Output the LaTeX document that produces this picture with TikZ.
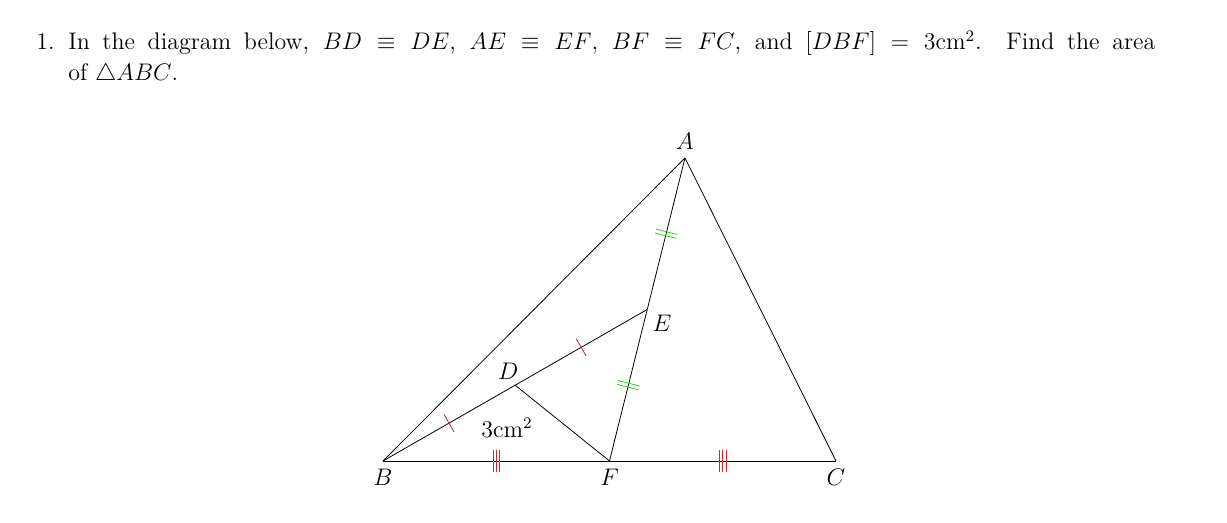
\documentclass[tikz,border=0pt,12pt]{standalone}
\usetikzlibrary{calc,decorations.markings}
\definecolor{tickpurple}{RGB}{214,18,100}
\definecolor{tickgreen}{RGB}{30,215,30}
\definecolor{tickred}{RGB}{230,30,30}
\tikzset{
  onemark/.style={postaction={decorate,decoration={markings,
      mark=at position 0.5 with {\draw[tickpurple] (0,-5pt) -- (0,5pt);}}}},
  twomark/.style={postaction={decorate,decoration={markings,
      mark=at position 0.5 with {\draw[tickgreen] (-1pt,-5.5pt) -- (-1pt,5.5pt) (1pt,-5.5pt) -- (1pt,5.5pt);}}}},
  threemark/.style={postaction={decorate,decoration={markings,
      mark=at position 0.5 with {\draw[tickred] (-1.6pt,-5.5pt) -- (-1.6pt,5.5pt) (0,-5.5pt) -- (0,5.5pt) (1.6pt,-5.5pt) -- (1.6pt,5.5pt);}}}}
}
\begin{document}
\begin{tikzpicture}
  \useasboundingbox (-6.731,-1.09) rectangle (14.832,8.101);

  % question
  \node[anchor=base west,inner sep=0] (num) at (-6.098,7.223) {1.};
  \node[anchor=base west,inner sep=0] (line1) at (-5.536,7.223)
    {\makebox[543.5pt][s]{In the diagram below, $BD\equiv DE$, $AE\equiv EF$, $BF\equiv FC$, and $[DBF]=3\mathrm{cm}^2$. Find the area}};
  \node[anchor=base west,inner sep=0] (line2) at (-5.536,6.678) {of $\triangle ABC$.};

  % points
  \coordinate (B) at (0,0);
  \coordinate (C) at (7.96,0);
  \coordinate (A) at (5.307,5.325);
  \coordinate (F) at ($(B)!0.5!(C)$);
  \coordinate (E) at ($(A)!0.5!(F)$);
  \coordinate (D) at ($(B)!0.5!(E)$);

  \draw (A) -- (B);
  \draw (A) -- (C);
  \draw[threemark] (B) -- (F);
  \draw[threemark] (F) -- (C);
  \draw[twomark] (A) -- (E);
  \draw[twomark] (E) -- (F);
  \draw[onemark] (B) -- (D);
  \draw[onemark] (D) -- (E);
  \draw (D) -- (F);

  \node[above] (lA) at (A) {$A$};
  \node[below] (lB) at (B) {$B$};
  \node[below] (lC) at (C) {$C$};
  \node[below] (lF) at (F) {$F$};
  \node[below right,inner sep=2.5pt] (lE) at (E) {$E$};
  \node[anchor=south,inner sep=2.5pt,xshift=-3.5pt] (lD) at (D) {$D$};
  \node (area) at (2.18,0.58) {$3\mathrm{cm}^2$};
\end{tikzpicture}
\end{document}
